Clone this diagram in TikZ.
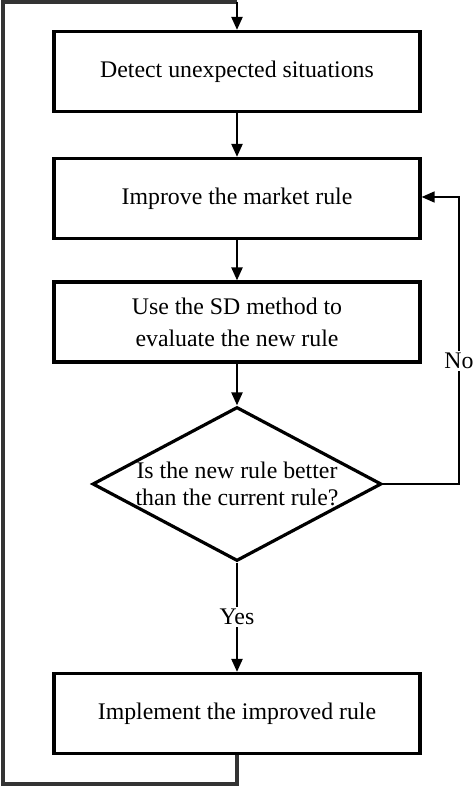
\documentclass[tikz,border=0pt]{standalone}
\usepackage{fontspec}
\setmainfont{Liberation Serif}
\usetikzlibrary{arrows.meta,shapes.geometric}
\begin{document}
\begin{tikzpicture}[x=1pt,y=-1pt,
  procbox/.style={draw, line width=3.2pt, minimum width=366pt, minimum height=80pt, inner sep=0pt, font=\fontsize{23.8}{32}\selectfont, align=center},
  decision/.style={draw, diamond, line width=3.2pt, minimum width=289pt, minimum height=154pt, inner sep=0pt},
  dtext/.style={font=\fontsize{23.8}{27.5}\selectfont, align=center, inner sep=0pt},
  flow/.style={line width=2.2pt, -{Triangle[length=13pt,width=11pt]}},
  thinflow/.style={line width=1.6pt, -{Triangle[length=13pt,width=11pt]}},
  loopline/.style={line width=3.2pt, draw=black!80},
  lbl/.style={fill=white, font=\fontsize{23.8}{28}\selectfont, inner sep=2pt}
]
\useasboundingbox (0,0) rectangle (474,786);
\node[procbox] (b1) at (237,71.5) {Detect unexpected situations};
\node[procbox] (b2) at (237,198.5) {Improve the market rule};
\node[procbox] (b3) at (237,322) {Use the SD method to\\evaluate the new rule};
\node[decision] (d) at (237,484) {};
\node[dtext] (dt) at (237,484) {Is the new rule better\\than the current rule?};
\node[procbox] (b5) at (237,713.5) {Implement the improved rule};

\coordinate (tl) at (3,2);
\coordinate (tm) at (237,2);
\coordinate (bl) at (3,784);
\coordinate (bm) at (237,784);
\coordinate (nr) at (459,484);
\coordinate (nt) at (459,197);

\draw[flow] (b1) -- (b2);
\draw[flow] (b2) -- (b3);
\draw[flow] (b3) -- (d);
\draw[flow] (d.south) -- node[lbl, pos=0.5] (yes) {Yes} (b5.north);
\draw[thinflow] (d.east) -- (nr) -- node[lbl, pos=0.43] (no) {No} (nt) -- (b2.east |- nt);
\draw[loopline] (b5.south) -- (bm) -- (bl) -- (tl) -- (tm);
\draw[flow] (tm) -- (b1.north);
\end{tikzpicture}
\end{document}
